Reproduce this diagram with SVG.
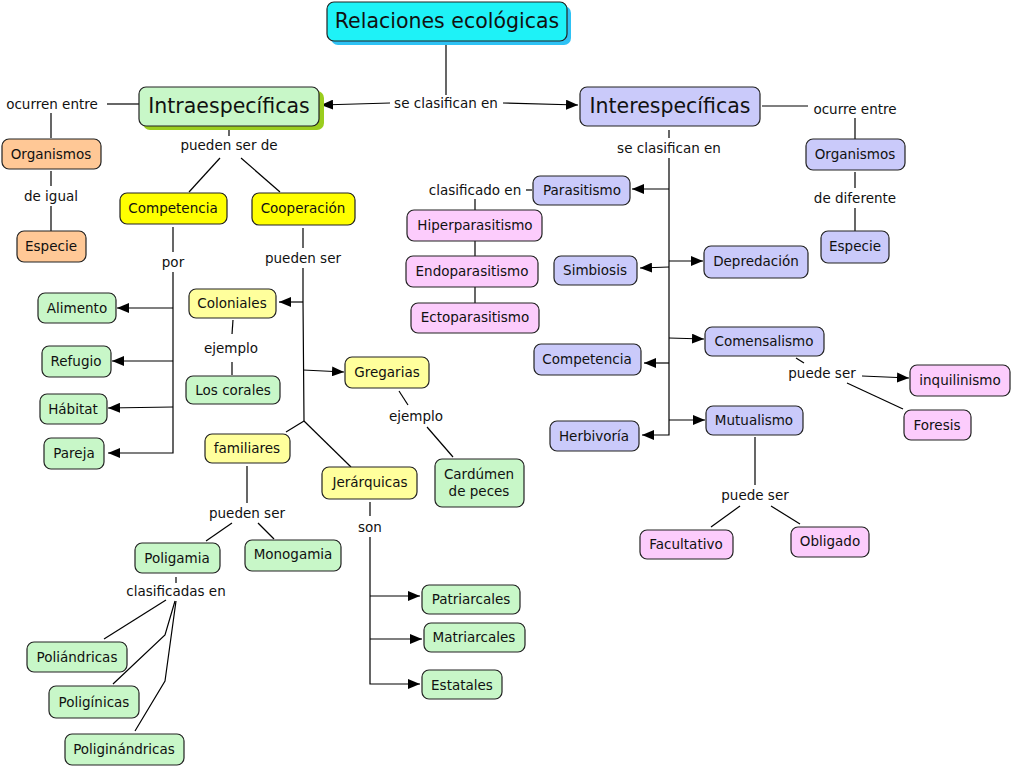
<svg xmlns="http://www.w3.org/2000/svg" width="1012" height="768" viewBox="0 0 1012 768">
<defs>
<marker id="ah" markerUnits="userSpaceOnUse" markerWidth="12" markerHeight="10" refX="12" refY="5" orient="auto"><path d="M0,0 L12,5 L0,10 z" fill="#000"/></marker>
<style>
.n rect{stroke:#222;stroke-width:1.2}
.n rect.sh{stroke:none}
text{font-family:"DejaVu Sans","Liberation Sans",sans-serif;font-size:13.5px;fill:#111;text-anchor:middle}
.big text{font-size:20.5px}
.cy{fill:#1EF2F7}.gr{fill:#C8F7C8}.or{fill:#FFC896}.ye{fill:#FFFF00}.ly{fill:#FFFF9C}.lv{fill:#CACAFA}.pk{fill:#FCCCFC}
#links line,#links polyline{stroke:#000;stroke-width:1.2;fill:none}
.a{marker-end:url(#ah)}
</style>
</defs>
<rect width="1012" height="768" fill="#fff"/>
<g id="links">
<line x1="446" y1="44" x2="446" y2="95"/>
<line class="a" x1="390" y1="103" x2="321" y2="105"/>
<line class="a" x1="503" y1="103" x2="578" y2="105"/>
<line x1="107" y1="104" x2="139" y2="104"/>
<line x1="51" y1="113" x2="51" y2="138"/>
<line x1="51" y1="171" x2="51" y2="186"/>
<line x1="51" y1="206" x2="51" y2="231"/>
<line x1="229" y1="130" x2="229" y2="136"/>
<line x1="220" y1="158" x2="189" y2="192"/>
<line x1="241" y1="158" x2="280" y2="192"/>
<line x1="173" y1="227" x2="173" y2="252"/>
<polyline points="173,272 173,453 108,453" class="a"/>
<line class="a" x1="173" y1="308" x2="117" y2="308"/>
<line class="a" x1="173" y1="361" x2="112" y2="361"/>
<line class="a" x1="173" y1="407" x2="108" y2="408"/>
<line x1="303" y1="228" x2="303" y2="248"/>
<polyline points="303,268 303,301 304,421"/>
<line class="a" x1="303" y1="302" x2="279" y2="302"/>
<line class="a" x1="303" y1="370" x2="344" y2="372"/>
<line x1="233" y1="320" x2="232" y2="334"/>
<line x1="232" y1="362" x2="232" y2="375"/>
<line x1="399" y1="391" x2="408" y2="405"/>
<line x1="427" y1="427" x2="453" y2="457"/>
<line x1="304" y1="421" x2="286" y2="432"/>
<line x1="304" y1="421" x2="351" y2="467"/>
<line x1="247" y1="466" x2="247" y2="503"/>
<line x1="232" y1="523" x2="206" y2="541"/>
<line x1="258" y1="523" x2="274" y2="539"/>
<line x1="176" y1="577" x2="176" y2="583"/>
<line x1="166" y1="600" x2="104" y2="639"/>
<polyline points="175,601 165,635 113,684"/>
<polyline points="176,601 165,681 135,731"/>
<line x1="370" y1="502" x2="370" y2="516"/>
<polyline points="370,537 370,684 420,684" class="a"/>
<line class="a" x1="370" y1="596" x2="420" y2="596"/>
<line class="a" x1="370" y1="639" x2="422" y2="639"/>
<line x1="669" y1="130" x2="669" y2="138"/>
<polyline points="669,158 669,435 642,435" class="a"/>
<line class="a" x1="669" y1="189" x2="632" y2="189"/>
<line x1="526" y1="190" x2="532" y2="190"/>
<line x1="475" y1="199" x2="475" y2="210"/>
<line x1="475" y1="241" x2="475" y2="256"/>
<line x1="475" y1="287" x2="475" y2="303"/>
<line class="a" x1="669" y1="267" x2="640" y2="268"/>
<line class="a" x1="669" y1="261" x2="703" y2="261"/>
<line class="a" x1="669" y1="363" x2="644" y2="363"/>
<line class="a" x1="669" y1="338" x2="704" y2="339"/>
<line class="a" x1="669" y1="420" x2="705" y2="420"/>
<line x1="796" y1="358" x2="804" y2="363"/>
<line class="a" x1="862" y1="376" x2="909" y2="378"/>
<line x1="847" y1="383" x2="903" y2="409"/>
<line x1="755" y1="437" x2="755" y2="485"/>
<line x1="740" y1="506" x2="711" y2="527"/>
<line x1="771" y1="506" x2="800" y2="524"/>
<line x1="762" y1="106" x2="808" y2="106"/>
<line x1="855" y1="118" x2="855" y2="139"/>
<line x1="855" y1="172" x2="855" y2="188"/>
<line x1="855" y1="208" x2="855" y2="231"/>
</g>
<g id="linklabels">
<text x="446" y="108">se clasifican en</text>
<text x="52" y="109">ocurren entre</text>
<text x="51" y="201">de igual</text>
<text x="229" y="150">pueden ser de</text>
<text x="173" y="267">por</text>
<text x="303" y="263">pueden ser</text>
<text x="231" y="353">ejemplo</text>
<text x="416" y="421">ejemplo</text>
<text x="247" y="518">pueden ser</text>
<text x="176" y="596">clasificadas en</text>
<text x="370" y="532">son</text>
<text x="669" y="153">se clasifican en</text>
<text x="475" y="195">clasificado en</text>
<text x="822" y="378">puede ser</text>
<text x="755" y="500">puede ser</text>
<text x="855" y="114">ocurre entre</text>
<text x="855" y="203">de diferente</text>
</g>
<g id="n-relaciones" class="n big"><rect class="sh" x="331" y="6" width="240" height="39" rx="7" fill="#2EC2F5"/><rect class="cy" x="327" y="2" width="240" height="39" rx="7"/><text x="447" y="28">Relaciones ecológicas</text></g>
<g id="n-intra" class="n big"><rect class="sh" x="143" y="91" width="181" height="39" rx="7" fill="#9ACD1E"/><rect class="gr" x="139" y="87" width="180" height="39" rx="7"/><text x="229" y="113">Intraespecíficas</text></g>
<g id="n-inter" class="n big"><rect class="lv" x="580" y="87" width="180" height="39" rx="7"/><text x="670" y="113">Interespecíficas</text></g>
<g id="n-org1" class="n"><rect class="or" x="2" y="139" width="99" height="30" rx="7"/><text x="51" y="159">Organismos</text></g>
<g id="n-esp1" class="n"><rect class="or" x="17" y="231" width="69" height="31" rx="7"/><text x="51" y="251">Especie</text></g>
<g id="n-comp1" class="n"><rect class="ye" x="120" y="193" width="107" height="31" rx="7"/><text x="173" y="213">Competencia</text></g>
<g id="n-coop" class="n"><rect class="ye" x="252" y="193" width="103" height="32" rx="7"/><text x="303" y="213">Cooperación</text></g>
<g id="n-alimento" class="n"><rect class="gr" x="38" y="293" width="78" height="30" rx="7"/><text x="77" y="313">Alimento</text></g>
<g id="n-refugio" class="n"><rect class="gr" x="42" y="346" width="69" height="31" rx="7"/><text x="76" y="366">Refugio</text></g>
<g id="n-habitat" class="n"><rect class="gr" x="40" y="394" width="67" height="30" rx="7"/><text x="73" y="414">Hábitat</text></g>
<g id="n-pareja" class="n"><rect class="gr" x="44" y="438" width="60" height="31" rx="7"/><text x="74" y="458">Pareja</text></g>
<g id="n-coloniales" class="n"><rect class="ly" x="189" y="289" width="87" height="29" rx="7"/><text x="232" y="308">Coloniales</text></g>
<g id="n-corales" class="n"><rect class="gr" x="186" y="376" width="94" height="28" rx="7"/><text x="233" y="395">Los corales</text></g>
<g id="n-gregarias" class="n"><rect class="ly" x="345" y="357" width="84" height="31" rx="7"/><text x="387" y="377">Gregarias</text></g>
<g id="n-cardumen" class="n"><rect class="gr" x="435" y="459" width="89" height="48" rx="7"/><text x="479" y="479">Cardúmen</text><text x="479" y="496">de peces</text></g>
<g id="n-familiares" class="n"><rect class="ly" x="205" y="434" width="85" height="29" rx="7"/><text x="247" y="453">familiares</text></g>
<g id="n-jerarquicas" class="n"><rect class="ly" x="322" y="467" width="95" height="32" rx="7"/><text x="370" y="487">Jerárquicas</text></g>
<g id="n-poligamia" class="n"><rect class="gr" x="135" y="543" width="85" height="30" rx="7"/><text x="177" y="563">Poligamia</text></g>
<g id="n-monogamia" class="n"><rect class="gr" x="245" y="540" width="96" height="31" rx="7"/><text x="293" y="559">Monogamia</text></g>
<g id="n-poliandricas" class="n"><rect class="gr" x="27" y="642" width="100" height="30" rx="7"/><text x="77" y="662">Poliándricas</text></g>
<g id="n-poliginicas" class="n"><rect class="gr" x="49" y="686" width="90" height="32" rx="7"/><text x="94" y="707">Poligínicas</text></g>
<g id="n-poliginandricas" class="n"><rect class="gr" x="65" y="734" width="119" height="31" rx="7"/><text x="124" y="754">Poliginándricas</text></g>
<g id="n-patriarcales" class="n"><rect class="gr" x="422" y="585" width="98" height="29" rx="7"/><text x="471" y="604">Patriarcales</text></g>
<g id="n-matriarcales" class="n"><rect class="gr" x="424" y="623" width="101" height="29" rx="7"/><text x="474" y="642">Matriarcales</text></g>
<g id="n-estatales" class="n"><rect class="gr" x="422" y="670" width="80" height="29" rx="7"/><text x="462" y="690">Estatales</text></g>
<g id="n-parasitismo" class="n"><rect class="lv" x="533" y="176" width="97" height="29" rx="7"/><text x="582" y="195">Parasitismo</text></g>
<g id="n-hiper" class="n"><rect class="pk" x="407" y="210" width="135" height="31" rx="7"/><text x="475" y="230">Hiperparasitismo</text></g>
<g id="n-endo" class="n"><rect class="pk" x="406" y="256" width="132" height="31" rx="7"/><text x="472" y="276">Endoparasitismo</text></g>
<g id="n-ecto" class="n"><rect class="pk" x="411" y="303" width="128" height="30" rx="7"/><text x="475" y="322">Ectoparasitismo</text></g>
<g id="n-simbiosis" class="n"><rect class="lv" x="554" y="256" width="83" height="29" rx="7"/><text x="595" y="275">Simbiosis</text></g>
<g id="n-depredacion" class="n"><rect class="lv" x="704" y="246" width="104" height="32" rx="7"/><text x="756" y="266">Depredación</text></g>
<g id="n-comp2" class="n"><rect class="lv" x="534" y="344" width="107" height="31" rx="7"/><text x="587" y="364">Competencia</text></g>
<g id="n-comensalismo" class="n"><rect class="lv" x="705" y="327" width="119" height="29" rx="7"/><text x="764" y="346">Comensalismo</text></g>
<g id="n-herbivoria" class="n"><rect class="lv" x="550" y="421" width="89" height="30" rx="7"/><text x="594" y="441">Herbivoría</text></g>
<g id="n-mutualismo" class="n"><rect class="lv" x="706" y="406" width="97" height="29" rx="7"/><text x="754" y="425">Mutualismo</text></g>
<g id="n-inquilinismo" class="n"><rect class="pk" x="910" y="365" width="100" height="31" rx="7"/><text x="960" y="385">inquilinismo</text></g>
<g id="n-foresis" class="n"><rect class="pk" x="904" y="410" width="67" height="30" rx="7"/><text x="937" y="430">Foresis</text></g>
<g id="n-facultativo" class="n"><rect class="pk" x="640" y="530" width="93" height="29" rx="7"/><text x="686" y="549">Facultativo</text></g>
<g id="n-obligado" class="n"><rect class="pk" x="791" y="527" width="78" height="30" rx="7"/><text x="830" y="546">Obligado</text></g>
<g id="n-org2" class="n"><rect class="lv" x="806" y="139" width="99" height="31" rx="7"/><text x="855" y="159">Organismos</text></g>
<g id="n-esp2" class="n"><rect class="lv" x="821" y="231" width="68" height="32" rx="7"/><text x="855" y="251">Especie</text></g>
</svg>
